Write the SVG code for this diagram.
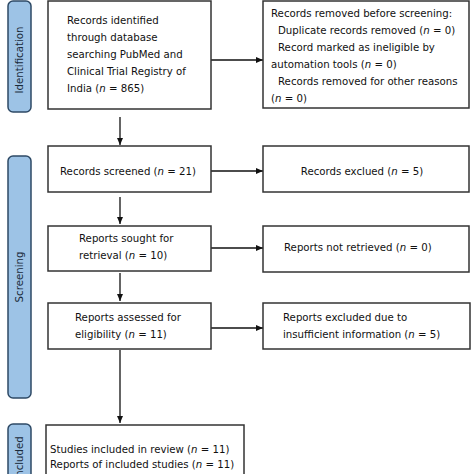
<svg xmlns="http://www.w3.org/2000/svg" width="474" height="474" viewBox="0 0 474 474">
<defs>
<marker id="ah" markerWidth="8" markerHeight="8" refX="7" refY="4" orient="auto" markerUnits="userSpaceOnUse">
<path d="M0,1 L7,4 L0,7 Z" fill="#111"/>
</marker>
<style>
.box{fill:#fff;stroke:#333;stroke-width:1.5}
.bar{fill:#9dc3e6;stroke:#2e4a66;stroke-width:1.5}
.t{font-family:"DejaVu Sans",Verdana,sans-serif;font-size:10.2px;fill:#111}
.bt{font-family:"DejaVu Sans",Verdana,sans-serif;font-size:10.2px;fill:#1a2a3a;text-anchor:middle}
.c{fill:none;stroke:#111;stroke-width:1.3;marker-end:url(#ah)}
</style>
</defs>
<rect width="474" height="474" fill="#fff"/>
<g id="bar-identification">
<rect class="bar" x="8" y="1" width="23" height="111" rx="5"/>
<text class="bt" transform="translate(23,60) rotate(-90)">Identification</text>
</g>
<g id="bar-screening">
<rect class="bar" x="8" y="156" width="23" height="242" rx="5"/>
<text class="bt" transform="translate(23,277) rotate(-90)">Screening</text>
</g>
<g id="bar-included">
<rect class="bar" x="8" y="424" width="23" height="60" rx="5"/>
<text class="bt" transform="translate(23,458) rotate(-90)">Included</text>
</g>
<g id="connectors">
<line class="c" x1="211" y1="60" x2="263" y2="60"/>
<line class="c" x1="120" y1="117" x2="120" y2="145"/>
<line class="c" x1="211" y1="171" x2="263" y2="171"/>
<line class="c" x1="120" y1="197" x2="120" y2="224"/>
<line class="c" x1="211" y1="248" x2="263" y2="248"/>
<line class="c" x1="120" y1="273" x2="120" y2="301"/>
<line class="c" x1="211" y1="328" x2="263" y2="328"/>
<line class="c" x1="120" y1="350" x2="120" y2="423"/>
</g>
<g id="n-identified">
<rect class="box" x="48" y="1" width="163" height="108"/>
<text class="t" x="67" y="24">Records identified</text>
<text class="t" x="67" y="41">through database</text>
<text class="t" x="67" y="58">searching PubMed and</text>
<text class="t" x="67" y="75">Clinical Trial Registry of</text>
<text class="t" x="67" y="92">India (<tspan font-style="italic">n</tspan> = 865)</text>
</g>
<g id="n-removed">
<rect class="box" x="263" y="1" width="206" height="107"/>
<text class="t" x="271" y="17">Records removed before screening:</text>
<text class="t" x="278" y="34">Duplicate records removed (<tspan font-style="italic">n</tspan> = 0)</text>
<text class="t" x="278" y="51">Record marked as ineligible by</text>
<text class="t" x="271" y="68">automation tools (<tspan font-style="italic">n</tspan> = 0)</text>
<text class="t" x="278" y="85">Records removed for other reasons</text>
<text class="t" x="271" y="102">(<tspan font-style="italic">n</tspan> = 0)</text>
</g>
<g id="n-screened">
<rect class="box" x="48" y="146" width="163" height="46"/>
<text class="t" x="60" y="175">Records screened (<tspan font-style="italic">n</tspan> = 21)</text>
</g>
<g id="n-excluded">
<rect class="box" x="263" y="146" width="206" height="46"/>
<text class="t" x="362" y="175" text-anchor="middle">Records exclued (<tspan font-style="italic">n</tspan> = 5)</text>
</g>
<g id="n-sought">
<rect class="box" x="48" y="226" width="163" height="45"/>
<text class="t" x="79" y="242">Reports sought for</text>
<text class="t" x="79" y="259">retrieval (<tspan font-style="italic">n</tspan> = 10)</text>
</g>
<g id="n-notretrieved">
<rect class="box" x="263" y="226" width="206" height="46"/>
<text class="t" x="284" y="251">Reports not retrieved (<tspan font-style="italic">n</tspan> = 0)</text>
</g>
<g id="n-assessed">
<rect class="box" x="48" y="303" width="163" height="46"/>
<text class="t" x="75" y="321">Reports assessed for</text>
<text class="t" x="75" y="338">eligibility (<tspan font-style="italic">n</tspan> = 11)</text>
</g>
<g id="n-insufficient">
<rect class="box" x="263" y="303" width="207" height="46"/>
<text class="t" x="283" y="321">Reports excluded due to</text>
<text class="t" x="283" y="338">insufficient information (<tspan font-style="italic">n</tspan> = 5)</text>
</g>
<g id="n-included">
<rect class="box" x="46" y="425" width="198" height="60"/>
<text class="t" x="50" y="453">Studies included in review (<tspan font-style="italic">n</tspan> = 11)</text>
<text class="t" x="50" y="468">Reports of included studies (<tspan font-style="italic">n</tspan> = 11)</text>
</g>
</svg>
